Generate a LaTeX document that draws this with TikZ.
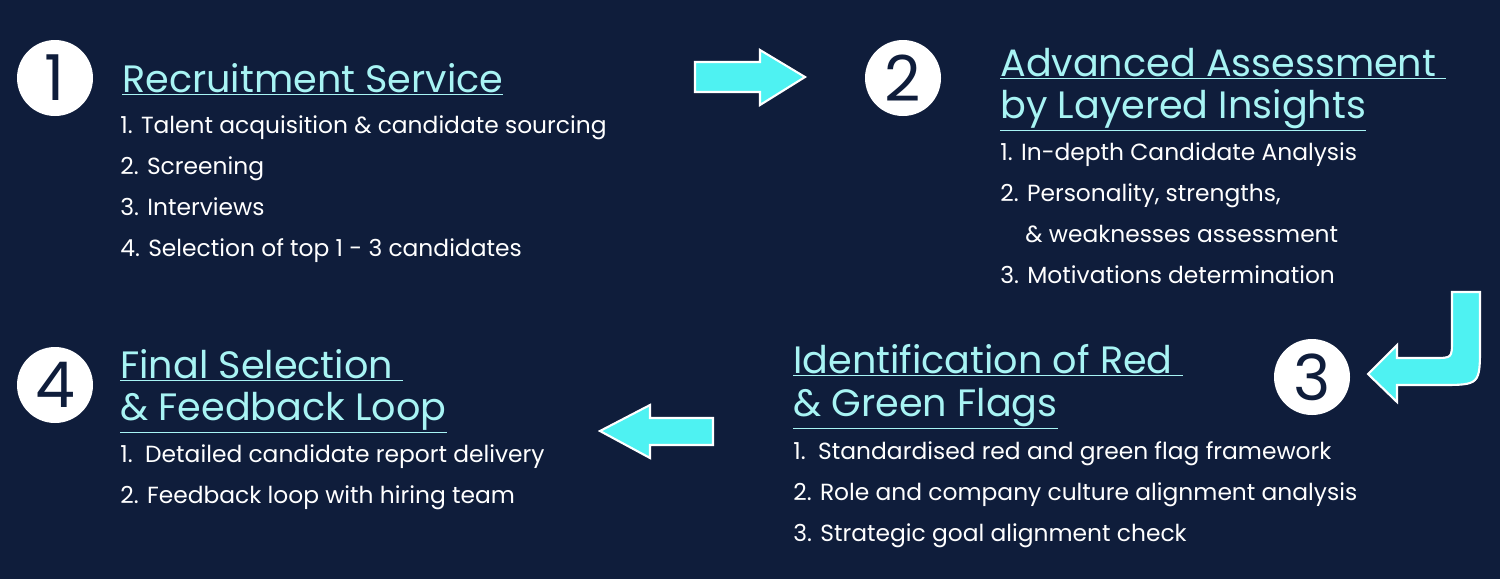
\documentclass[tikz,border=0pt]{standalone}
\usepackage{fontspec}
\setmainfont{Poppins}
\definecolor{bg}{HTML}{0F1D3B}
\definecolor{cy}{HTML}{4EF2F2}
\definecolor{tt}{HTML}{A8F4F4}
\begin{document}
\begin{tikzpicture}[x=0.02cm,y=-0.02cm,
  num/.style={circle,fill=white,minimum size=76*0.02cm,inner sep=0pt,text=bg,font=\fontsize{36}{36}\selectfont},
  ttl/.style={anchor=base west,inner sep=0pt,text=tt,font=\fontsize{21.7}{21.7}\selectfont},
  itm/.style={anchor=base west,inner sep=0pt,text=white,font=\fontsize{13.3}{13.3}\selectfont},
  arr/.style={fill=cy,draw=white,line width=1.2pt,line join=miter}]
\fill[bg] (0,0) rectangle (1500,579);
\useasboundingbox (0,0) rectangle (1500,579);
% numbers
\node[num] (n1) at (55,78) {1};
\node[num] (n2) at (903,78) {2};
\node[num] (n3) at (1312,377) {3};
\node[num] (n4) at (55,385) {4};
% arrows
\draw[arr] (695,62)--(760,62)--(760,50)--(805,77)--(760,105)--(760,92)--(695,92)--cycle;
\draw[arr] (713,418)--(650,418)--(650,405)--(600,431)--(650,458)--(650,445)--(713,445)--cycle;
\draw[arr] (1452,292)--(1480,292)--(1480,345) .. controls (1480,385) .. (1440,385)--(1397,385)--(1397,402)--(1368,374)--(1397,345)--(1397,358)--(1434,358) .. controls (1452,358) .. (1452,340)--cycle;
% block 1
\node[ttl] (t1) at (122,92) {\underline{Recruitment Service}};
\node[itm] (a1) at (120,133) {1. Talent acquisition \& candidate sourcing};
\node[itm] (a2) at (120,174) {2. Screening};
\node[itm] (a3) at (120,215) {3. Interviews};
\node[itm] (a4) at (120,256) {4. Selection of top 1 - 3 candidates};
% block 2
\node[ttl] (t2) at (1000,76) {\underline{Advanced Assessment\ }};
\node[ttl] (t2b) at (1000,118) {\underline{by Layered Insights}};
\node[itm] (b1) at (1000,160) {1. In-depth Candidate Analysis};
\node[itm] (b2) at (1000,201) {2. Personality, strengths,};
\node[itm] (b2b) at (1025,242) {\& weaknesses assessment};
\node[itm] (b3) at (1000,283) {3. Motivations determination};
% block 3
\node[ttl] (t3) at (793,373) {\underline{Identification of Red\ }};
\node[ttl] (t3b) at (793,416) {\underline{\& Green Flags}};
\node[itm] (c1) at (793,459) {1.\ \ Standardised red and green flag framework};
\node[itm] (c2) at (793,500) {2. Role and company culture alignment analysis};
\node[itm] (c3) at (793,541) {3. Strategic goal alignment check};
% block 4
\node[ttl] (t4) at (120,378) {\underline{Final Selection\ }};
\node[ttl] (t4b) at (120,420) {\underline{\& Feedback Loop}};
\node[itm] (d1) at (120,462) {1.\ \ Detailed candidate report delivery};
\node[itm] (d2) at (120,503) {2. Feedback loop with hiring team};
\end{tikzpicture}
\end{document}
